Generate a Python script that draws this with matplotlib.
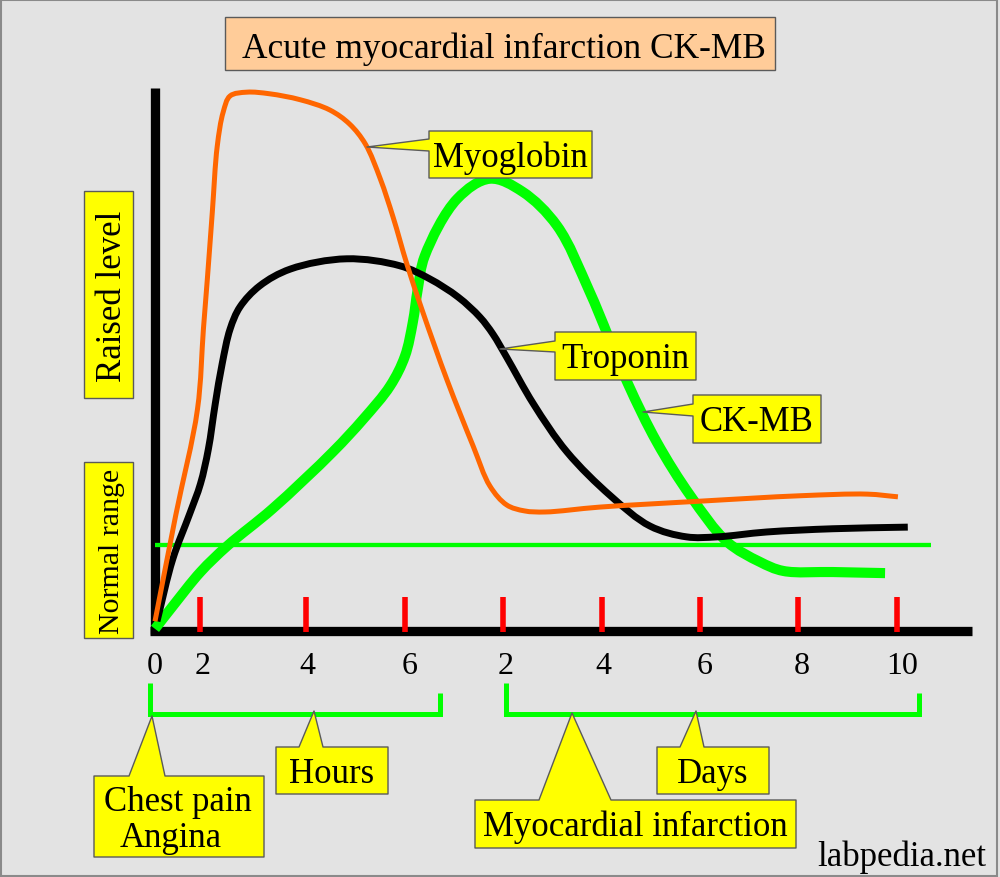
import matplotlib
matplotlib.use('Agg')
import matplotlib.pyplot as plt
from matplotlib.patches import Polygon, Rectangle, PathPatch
from matplotlib.path import Path
from matplotlib.transforms import blended_transform_factory

plt.rcParams['font.family'] = ['Liberation Serif', 'DejaVu Serif']

# ---- curve data: x = position along the time axis (tick units), y = level (0-100)
myo_x = [0.00, 0.21, 0.43, 0.49, 0.53, 0.58, 0.63, 0.69, 0.76, 0.93, 1.16,
         1.47, 1.77, 1.97, 2.13, 2.28, 2.41, 2.55, 2.71, 2.96, 3.22, 3.39, 3.56,
         3.74, 3.95, 4.50, 5.52, 6.53, 7.21, 7.52]
myo_y = [1.8, 21.4, 41.0, 55.8, 65.1, 77.4, 89.6, 95.9, 98.9, 99.6, 99.3,
         98.2, 96.3, 93.7, 90.0, 83.6, 76.5, 67.8, 59.0, 46.2, 34.2, 26.8, 23.3,
         22.2, 22.0, 22.9, 24.0, 25.0, 25.3, 24.8]

trop_x = [0.02, 0.18, 0.35, 0.46, 0.54, 0.61, 0.68, 0.76, 0.86, 1.06, 1.37, 1.94,
          2.48, 2.78, 3.07, 3.29, 3.42, 3.56, 3.83, 4.17, 4.61, 5.01, 5.38, 5.69,
          6.19, 6.86, 7.62]
trop_y = [1.8, 13.3, 21.6, 27.2, 33.6, 42.0, 49.4, 55.8, 59.9, 63.8, 66.9, 68.8,
          67.5, 65.1, 61.7, 58.0, 54.9, 50.6, 42.0, 33.1, 25.0, 19.4, 17.4, 17.4,
          18.3, 18.9, 19.2]

ckmb_x = [0.00, 0.18, 0.46, 0.73, 1.19, 1.80, 2.11, 2.38, 2.53, 2.61, 2.66, 2.73,
          3.06, 3.39, 3.72, 4.07, 4.40, 4.78, 5.08, 5.42, 5.79, 6.12, 6.36, 6.86, 7.39]
ckmb_y = [0.4, 4.6, 10.9, 15.7, 22.6, 33.1, 39.2, 45.3, 50.8, 57.1, 63.2, 69.3,
          79.9, 83.6, 81.2, 74.9, 62.7, 46.0, 34.9, 25.0, 16.5, 12.8, 11.1, 10.9, 10.7]

normal_level = 15.9
normal_end = 7.85

tick_pos = [0.46, 1.53, 2.53, 3.52, 4.52, 5.52, 6.51, 7.51]
tick_label_pos = [0.0, 0.48, 1.54, 2.58, 3.55, 4.54, 5.56, 6.55, 7.56]
tick_labels = ['0', '2', '4', '6', '2', '4', '6', '8', '10']

title = 'Acute myocardial infarction CK-MB'

BG = '#e3e3e3'
ORANGE = '#ff6600'
GREEN = '#00ff00'
YELLOW = '#ffff00'
EDGE = '#5a5a5a'

# pixel size of one data unit, used only to space the spline knots
SX, SY = 98.8, 5.41


def smooth(x, y):
    # centripetal Catmull-Rom through the points, drawn as cubic Bezier segments
    pts = list(zip(x, y))
    n = len(pts)
    first = (2 * pts[0][0] - pts[1][0], 2 * pts[0][1] - pts[1][1])
    last = (2 * pts[-1][0] - pts[-2][0], 2 * pts[-1][1] - pts[-2][1])
    ext = [first] + pts + [last]

    def dt(a, b):
        d = (((b[0] - a[0]) * SX) ** 2 + ((b[1] - a[1]) * SY) ** 2) ** 0.5
        return max(d, 1e-6) ** 0.5

    verts = [pts[0]]
    codes = [Path.MOVETO]
    for i in range(1, n):
        p0, p1, p2, p3 = ext[i - 1], ext[i], ext[i + 1], ext[i + 2]
        d01, d12, d23 = dt(p0, p1), dt(p1, p2), dt(p2, p3)
        m1 = [d12 * ((p1[k] - p0[k]) / d01 - (p2[k] - p0[k]) / (d01 + d12) + (p2[k] - p1[k]) / d12)
              for k in range(2)]
        m2 = [d12 * ((p2[k] - p1[k]) / d12 - (p3[k] - p1[k]) / (d12 + d23) + (p3[k] - p2[k]) / d23)
              for k in range(2)]
        c1 = (p1[0] + m1[0] / 3, p1[1] + m1[1] / 3)
        c2 = (p2[0] - m2[0] / 3, p2[1] - m2[1] / 3)
        verts += [c1, c2, p2]
        codes += [Path.CURVE4] * 3
    return Path(verts, codes)


fig = plt.figure(figsize=(10, 8.78), dpi=100, facecolor=BG)

# data axes: origin at (155, 632) px
ax = fig.add_axes([0.155, (878 - 632) / 878, 0.817, 541 / 878])
ax.set_xlim(0, 8.27)
ax.set_ylim(0, 100)
ax.axis('off')

ax.plot([0, 0], [-0.6, 100.4], color='black', lw=6.7, solid_capstyle='butt', clip_on=False, zorder=2)
ax.plot([-0.05, 8.27], [0, 0], color='black', lw=6.7, solid_capstyle='butt', clip_on=False, zorder=2)
for t in tick_pos:
    ax.plot([t, t], [-0.2, 6.3], color='red', lw=4, solid_capstyle='butt', clip_on=False, zorder=3)

ax.plot([0, normal_end], [normal_level, normal_level], color=GREEN, lw=3.1,
        solid_capstyle='butt', clip_on=False, zorder=4)
for xs, ys, col, lw, z in [(ckmb_x, ckmb_y, GREEN, 7.3, 5),
                           (trop_x, trop_y, 'black', 5.0, 6),
                           (myo_x, myo_y, ORANGE, 3.6, 7)]:
    ax.add_patch(PathPatch(smooth(xs, ys), fill=False, ec=col, lw=lw, capstyle='butt',
                           joinstyle='round', clip_on=False, zorder=z))

# overlay axes in pixel units for the boxes and callouts
ov = fig.add_axes([0, 0, 1, 1])
ov.set_xlim(0, 1000)
ov.set_ylim(878, 0)
ov.axis('off')
ov.patch.set_alpha(0)

tr = blended_transform_factory(ax.transData, ov.transData)
for xp, lab in zip(tick_label_pos, tick_labels):
    ov.text(xp, 674, lab, transform=tr, ha='center', va='baseline', fontsize=23)

ov.add_patch(Rectangle((0.5, 0.5), 996.5, 877, fill=False, ec='#8a8a8a', lw=1.5))

# title
ov.add_patch(Rectangle((225, 18), 550, 53, fc='#ffcc99', ec=EDGE, lw=1.0))
ov.text(504, 58, title, ha='center', va='baseline', fontsize=25.5)


def callout(box, base, tip, side, text_lines, text_x=None, baselines=None):
    x0, y0, x1, y1 = box
    if side == 'left':
        verts = [(x0, y0), (x1, y0), (x1, y1), (x0, y1), (x0, base[1]), tip, (x0, base[0])]
    else:
        verts = [(x0, y0), (base[0], y0), tip, (base[1], y0), (x1, y0), (x1, y1), (x0, y1)]
    ov.add_patch(Polygon(verts, closed=True, fc=YELLOW, ec=EDGE, lw=1.0, joinstyle='round', zorder=8))
    if baselines is None:
        baselines = [(y0 + y1) / 2 + 11.5]
    if text_x is None:
        text_x = [(x0 + x1) / 2] * len(text_lines)
    for s, tx, by in zip(text_lines, text_x, baselines):
        ov.text(tx, by, s, ha='center', va='baseline', fontsize=25, zorder=9)


callout((429, 132, 592, 179), (140, 152), (367, 148), 'left', ['Myoglobin'])
callout((555, 333, 696, 381), (342, 353), (500, 350), 'left', ['Troponin'])
callout((693, 396, 821, 444), (405, 417), (643, 413), 'left', ['CK-MB'])
callout((94, 777, 264, 858), (129, 165), (152, 717), 'top', ['Chest pain', 'Angina'],
        text_x=[178, 171], baselines=[811, 847])
callout((276, 748, 388, 795), (299, 323), (314, 712), 'top', ['Hours'])
callout((657, 748, 769, 795), (680, 704), (696, 712), 'top', ['Days'])
callout((475, 801, 796, 849), (539, 611), (572, 714), 'top', ['Myocardial infarction'])

# rotated side labels
ov.add_patch(Rectangle((84, 192), 49, 207, fc=YELLOW, ec=EDGE, lw=1.0))
ov.text(121, 296, 'Raised level', rotation=90, rotation_mode='anchor',
        ha='center', va='baseline', fontsize=25)
ov.add_patch(Rectangle((84, 463), 49, 176, fc=YELLOW, ec=EDGE, lw=1.0))
ov.text(119, 551, 'Normal range', rotation=90, rotation_mode='anchor',
        ha='center', va='baseline', fontsize=21.5)

# green brackets under the time axis
for xl, xr in [(150, 440), (506, 919)]:
    ov.plot([xl, xl, xr, xr], [684, 715, 715, 694], color=GREEN, lw=3.6,
            solid_joinstyle='miter', solid_capstyle='butt')

ov.text(902, 866, 'labpedia.net', ha='center', va='baseline', fontsize=25)

fig.savefig('out.png', dpi=100, facecolor=fig.get_facecolor())
